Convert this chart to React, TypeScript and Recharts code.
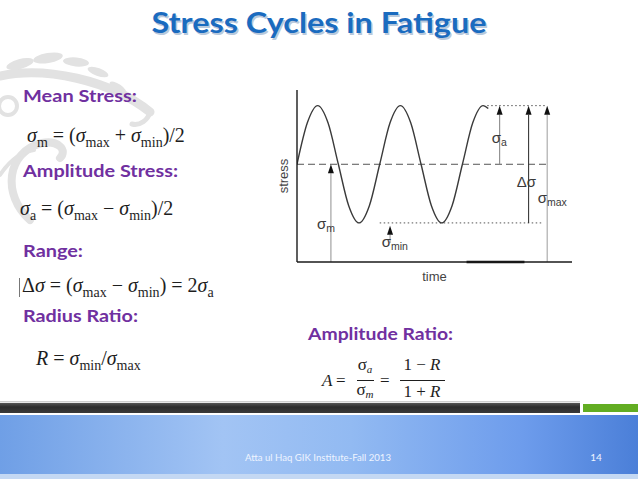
import React from 'react';
import { ComposedChart, Line, XAxis, YAxis, ReferenceLine, ReferenceDot } from 'recharts';

// ---- data ----
// time axis (one cycle = 4 units), stress axis (σmin = 2, σm = 5, σmax = 8)
const timeValues = [0, 0.5, 1, 1.5, 2, 2.5, 3, 3.5, 4, 4.5, 5, 5.5, 6, 6.5, 7, 7.5, 8, 8.5, 9, 9.25];
const stressValues = [5, 7.12, 8, 7.12, 5, 2.88, 2, 2.88, 5, 7.12, 8, 7.12, 5, 2.88, 2, 2.88, 5, 7.12, 8, 7.85];

const sigmaMax = 8;
const sigmaMin = 2;
const sigmaMean = 5;
const timeDomain = [0, 13.3];
const stressDomain = [0, 8.8];

// level guide lines: [fromTime, toTime, level]
const meanLine = [0, 12.1, sigmaMean];
const maxLine = [9.2, 12.1, sigmaMax];
const minLine = [4.0, 11.9, sigmaMin];
const axisBar = [8.2, 11.0, 0];

// arrows: id, time, fromStress, toStress
const arrowIds = ['m', 'min', 'a', 'range', 'max'];
const arrowTimes = [1.64, 4.5, 9.8, 11.2, 12.1];
const arrowFrom = [0, 0.97, sigmaMean, sigmaMin, 0];
const arrowTo = [sigmaMean, 1.85, sigmaMax, sigmaMax, sigmaMax];

// labels: main symbol, subscript, anchor time, anchor stress
const labelMain = ['σ', 'σ', 'σ', 'Δσ', 'σ'];
const labelSub = ['m', 'min', 'a', '', 'max'];
const labelTimes = [0.97, 4.1, 9.42, 10.63, 11.64];
const labelStress = [1.68, 0.77, 6.07, 3.83, 3.01];

const titleText = 'Stress Cycles in Fatigue';
const headingTexts = ['Mean Stress:', 'Amplitude Stress:', 'Range:', 'Radius Ratio:', 'Amplitude Ratio:'];
const footerText = 'Atta ul Haq GIK Institute-Fall 2013';
const pageNumber = '14';

const chartData = timeValues.map((t, i) => ({ t, stress: stressValues[i] }));

type Part = { t: string; sub?: boolean; it?: boolean };

const SERIF = "'Liberation Serif', 'Times New Roman', serif";
const SANS = "'Liberation Sans', Arial, sans-serif";

function Formula({ x, y, parts, size = 20 }: { x: number; y: number; parts: Part[]; size?: number }) {
  let shifted = false;
  const shift = Math.round(size * 0.25);
  return (
    <text x={x} y={y} fontFamily={SERIF} fontSize={size} fill="#1e1e1e" style={{ whiteSpace: 'pre' }}>
      {parts.map((p, i) => {
        let dy: number | undefined;
        if (p.sub && !shifted) {
          dy = shift;
          shifted = true;
        } else if (!p.sub && shifted) {
          dy = -shift;
          shifted = false;
        }
        return (
          <tspan key={i} dy={dy} fontSize={p.sub ? size * 0.7 : size} fontStyle={p.it ? 'italic' : 'normal'}>
            {p.t}
          </tspan>
        );
      })}
    </text>
  );
}

const arrowShaft: Record<string, string> = { m: '#9a9a9a', min: '#9a9a9a', a: '#8a8a8a', range: '#3a3a3a', max: '#a5a5a5' };

const makeArrow = (id: string) => (props: any) => {
  const { x1, y1, x2, y2 } = props;
  const dir = y2 < y1 ? 1 : -1;
  const head = 9;
  const half = 3;
  return (
    <g>
      <line x1={x1} y1={y1} x2={x2} y2={y2 + dir * head} stroke={arrowShaft[id]} strokeWidth={1.1} />
      <polygon points={`${x2},${y2} ${x2 - half},${y2 + dir * head} ${x2 + half},${y2 + dir * head}`} fill="#111" />
    </g>
  );
};

const makeLabel = (main: string, sub: string) => (props: any) => (
  <text x={props.cx} y={props.cy} fontFamily={SANS} fontSize={15} fill="#3a3a3a">
    {main}
    {sub ? (
      <tspan fontSize={10.5} dy={3}>
        {sub}
      </tspan>
    ) : null}
  </text>
);

function StressChart() {
  return (
    <ComposedChart
      width={310}
      height={210}
      data={chartData}
      margin={{ top: 10, right: 8, left: 0, bottom: 0 }}
    >
      <XAxis
        dataKey="t"
        type="number"
        domain={timeDomain}
        allowDataOverflow
        tick={false}
        tickLine={false}
        height={28}
        axisLine={{ stroke: '#1a1a1a', strokeWidth: 1.4 }}
        label={{ value: 'time', position: 'insideBottom', offset: 9, fill: '#444', fontSize: 13, fontFamily: SANS }}
      />
      <YAxis
        type="number"
        domain={stressDomain}
        allowDataOverflow
        tick={false}
        tickLine={false}
        width={27}
        axisLine={{ stroke: '#1a1a1a', strokeWidth: 1.4 }}
        label={{ value: 'stress', angle: -90, position: 'center', fill: '#444', fontSize: 13, fontFamily: SANS }}
      />
      <ReferenceLine
        segment={[{ x: meanLine[0], y: meanLine[2] }, { x: meanLine[1], y: meanLine[2] }]}
        stroke="#555"
        strokeWidth={1}
        strokeDasharray="7 4"
      />
      <ReferenceLine
        segment={[{ x: maxLine[0], y: maxLine[2] }, { x: maxLine[1], y: maxLine[2] }]}
        stroke="#555"
        strokeWidth={1}
        strokeDasharray="1.5 2.5"
      />
      <ReferenceLine
        segment={[{ x: minLine[0], y: minLine[2] }, { x: minLine[1], y: minLine[2] }]}
        stroke="#555"
        strokeWidth={1}
        strokeDasharray="1.5 2.5"
      />
      <ReferenceLine
        segment={[{ x: axisBar[0], y: axisBar[2] }, { x: axisBar[1], y: axisBar[2] }]}
        stroke="#111"
        strokeWidth={2.6}
      />
      {arrowIds.map((id, i) => (
        <ReferenceLine
          key={id}
          segment={[{ x: arrowTimes[i], y: arrowFrom[i] }, { x: arrowTimes[i], y: arrowTo[i] }]}
          shape={makeArrow(id)}
        />
      ))}
      {labelMain.map((m, i) => (
        <ReferenceDot key={i} x={labelTimes[i]} y={labelStress[i]} r={0} shape={makeLabel(m, labelSub[i])} />
      ))}
      <Line
        dataKey="stress"
        type="monotone"
        stroke="#3a3a3a"
        strokeWidth={1.4}
        dot={false}
        activeDot={false}
        isAnimationActive={false}
      />
    </ComposedChart>
  );
}

function Slide() {
  const headPos = [
    [23, 102, 114],
    [23, 177, 155],
    [23, 257, 60],
    [23, 322, 115],
    [308, 340, 145],
  ];
  return (
    <svg width={638} height={479} style={{ position: 'absolute', left: 0, top: 0 }}>
      <defs>
        <linearGradient id="footBlue" x1="0" y1="0" x2="1" y2="0">
          <stop offset="0" stopColor="#6f9fe6" />
          <stop offset="0.35" stopColor="#a2c4f4" />
          <stop offset="0.55" stopColor="#92baf2" />
          <stop offset="0.82" stopColor="#6d9cec" />
          <stop offset="1" stopColor="#4b7fd8" />
        </linearGradient>
        <linearGradient id="darkBand" x1="0" y1="0" x2="0" y2="1">
          <stop offset="0" stopColor="#555" />
          <stop offset="0.4" stopColor="#2c2c2c" />
          <stop offset="1" stopColor="#3a3a3a" />
        </linearGradient>
      </defs>
      <rect x={0} y={0} width={638} height={479} fill="#ffffff" />
      {/* decorative swirl */}
      <g fill="none" stroke="#e2e2e2" strokeLinecap="round">
        <path d="M0,76 C45,66 110,80 150,112" strokeWidth={9} />
        <path d="M150,112 C148,120 140,126 132,124" strokeWidth={5} />
        <circle cx={8} cy={106} r={9} strokeWidth={4} />
        <path d="M30,220 C2,195 6,152 42,143 C58,140 68,150 60,158" strokeWidth={8} />
        <path d="M0,175 C10,160 20,152 34,150" strokeWidth={4} />
      </g>
      <g fill="#e2e2e2">
        <ellipse cx={20} cy={64} rx={14} ry={5} transform="rotate(-15 20 64)" />
        <ellipse cx={48} cy={58} rx={15} ry={5} transform="rotate(-10 48 58)" />
        <ellipse cx={76} cy={62} rx={13} ry={4.5} transform="rotate(5 76 62)" />
        <ellipse cx={98} cy={72} rx={11} ry={4} transform="rotate(20 98 72)" />
        <ellipse cx={118} cy={88} rx={10} ry={4} transform="rotate(35 118 88)" />
      </g>
      {/* title */}
      <text x={320.5} y={34.5} textAnchor="middle" fontFamily="Lato, sans-serif" fontWeight="bold" fontSize={28} fill="#b9c9dc" textLength={335} lengthAdjust="spacingAndGlyphs">
        {titleText}
      </text>
      <text x={319} y={33} textAnchor="middle" fontFamily="Lato, sans-serif" fontWeight="bold" fontSize={28} fill="#1a6bbf" textLength={335} lengthAdjust="spacingAndGlyphs">
        {titleText}
      </text>
      {/* headings */}
      {headingTexts.map((h, i) => (
        <text key={h} x={headPos[i][0]} y={headPos[i][1]} fontFamily="Lato, sans-serif" fontWeight="bold" fontSize={17} fill="#7030a0" textLength={headPos[i][2]} lengthAdjust="spacingAndGlyphs">
          {h}
        </text>
      ))}
      {/* formulas */}
      <Formula
        x={27}
        y={142}
        parts={[
          { t: 'σ', it: true }, { t: 'm', sub: true }, { t: ' = (' }, { t: 'σ', it: true }, { t: 'max', sub: true },
          { t: ' + ' }, { t: 'σ', it: true }, { t: 'min', sub: true }, { t: ')/2' },
        ]}
      />
      <Formula
        x={20}
        y={215}
        parts={[
          { t: 'σ', it: true }, { t: 'a', sub: true }, { t: ' = (' }, { t: 'σ', it: true }, { t: 'max', sub: true },
          { t: ' − ' }, { t: 'σ', it: true }, { t: 'min', sub: true }, { t: ')/2' },
        ]}
      />
      <line x1={19.5} y1={278} x2={19.5} y2={297} stroke="#777" strokeWidth={1} />
      <Formula
        x={22}
        y={292}
        parts={[
          { t: 'Δ' }, { t: 'σ', it: true }, { t: ' = (' }, { t: 'σ', it: true }, { t: 'max', sub: true },
          { t: ' − ' }, { t: 'σ', it: true }, { t: 'min', sub: true }, { t: ') = 2' }, { t: 'σ', it: true }, { t: 'a', sub: true },
        ]}
      />
      <Formula
        x={36}
        y={365}
        parts={[
          { t: 'R', it: true }, { t: ' = ' }, { t: 'σ', it: true }, { t: 'min', sub: true }, { t: '/' }, { t: 'σ', it: true },
          { t: 'max', sub: true },
        ]}
      />
      {/* amplitude ratio */}
      <g fontFamily={SERIF} fill="#1e1e1e" style={{ whiteSpace: 'pre' }}>
        <text x={322} y={386} fontSize={17} fontStyle="italic">A</text>
        <text x={336} y={386} fontSize={17}>=</text>
        <text x={365} y={370} fontSize={17} textAnchor="middle">
          <tspan>σ</tspan>
          <tspan fontSize={11} fontStyle="italic" dy={3}>a</tspan>
        </text>
        <line x1={357} y1={380.5} x2={374} y2={380.5} stroke="#1e1e1e" strokeWidth={1} />
        <text x={365} y={395} fontSize={17} textAnchor="middle">
          <tspan>σ</tspan>
          <tspan fontSize={11} fontStyle="italic" dy={3}>m</tspan>
        </text>
        <text x={380} y={386} fontSize={17}>=</text>
        <text x={422} y={370} fontSize={17} textAnchor="middle">
          <tspan>1 − </tspan>
          <tspan fontStyle="italic">R</tspan>
        </text>
        <line x1={400} y1={380.5} x2={445} y2={380.5} stroke="#1e1e1e" strokeWidth={1} />
        <text x={422} y={397} fontSize={17} textAnchor="middle">
          <tspan>1 + </tspan>
          <tspan fontStyle="italic">R</tspan>
        </text>
      </g>
      {/* footer */}
      <rect x={0} y={401} width={580} height={1.5} fill="#cfcfcf" />
      <rect x={0} y={403} width={580} height={10} fill="url(#darkBand)" />
      <rect x={583} y={404} width={55} height={8} fill="#62ad22" />
      <rect x={0} y={415} width={638} height={60} fill="url(#footBlue)" />
      <rect x={0} y={474} width={638} height={5} fill="#c4d8f3" />
      <text x={318} y={461} textAnchor="middle" fontFamily="Lato, sans-serif" fontSize={10} fill="#eef4ff" textLength={146} lengthAdjust="spacingAndGlyphs">
        {footerText}
      </text>
      <text x={596} y={461} textAnchor="middle" fontFamily="Lato, sans-serif" fontSize={10} fill="#eef4ff">
        {pageNumber}
      </text>
    </svg>
  );
}

export default function App() {
  return (
    <div style={{ position: 'absolute', left: 0, top: 0, width: 638, height: 479, overflow: 'hidden', background: '#fff' }}>
      <Slide />
      <div style={{ position: 'absolute', left: 270, top: 80 }}>
        <StressChart />
      </div>
    </div>
  );
}
